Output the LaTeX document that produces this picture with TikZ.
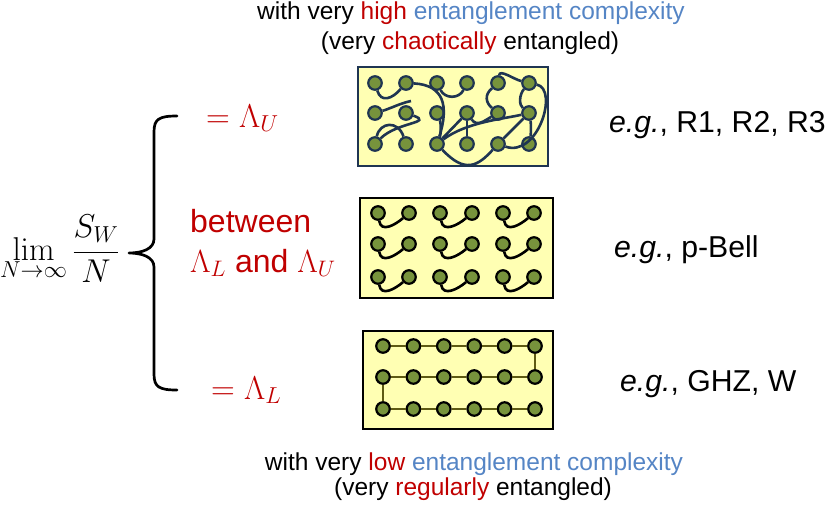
\RequirePackage{fix-cm}
\documentclass[tikz,border=0pt]{standalone}
\usepackage[no-math]{fontspec}
\setmainfont{Liberation Sans}
\definecolor{myred}{HTML}{C00000}
\definecolor{myblue}{HTML}{5585C5}
\definecolor{boxfill}{HTML}{FFFFB3}
\definecolor{navy}{HTML}{1F3552}
\definecolor{dotg}{HTML}{77933C}
\definecolor{olive}{HTML}{5E5A14}
\begin{document}
\begin{tikzpicture}[x=1pt,y=-1pt,
  boxA/.style={rectangle,draw=navy,fill=boxfill,line width=2.6pt,inner sep=0pt},
  boxB/.style={rectangle,draw=black,fill=boxfill,line width=2.6pt,inner sep=0pt},
  dotA/.style={circle,draw=navy,fill=dotg,line width=2.2pt,minimum size=13.5pt,inner sep=0pt},
  dotB/.style={circle,draw=black,fill=dotg,line width=2.2pt,minimum size=13.5pt,inner sep=0pt},
  tangle/.style={draw=navy,line width=2.6pt},
  pairline/.style={draw=black,line width=2.6pt},
  chain/.style={draw=olive,line width=2.8pt},
  captxt/.style={font=\fontsize{24.5}{28}\selectfont,anchor=base,inner sep=0pt},
  egtxt/.style={font=\fontsize{30.2}{34}\selectfont,anchor=base west,inner sep=0pt},
  redtxt/.style={text=myred,inner sep=0pt}
]
\useasboundingbox (0,0) rectangle (825,507);

% captions
\node[captxt] (cap1) at (471,19.5) {with very \textcolor{myred}{high} \textcolor{myblue}{entanglement complexity}};
\node[captxt] (cap2) at (470,49) {(very \textcolor{myred}{chaotically} entangled)};
\node[captxt] (cap3) at (474,470) {with very \textcolor{myred}{low} \textcolor{myblue}{entanglement complexity}};
\node[captxt] (cap4) at (473,495) {(very \textcolor{myred}{regularly} entangled)};

% formula
\node[anchor=base west,inner sep=0pt] (lim) at (0,260) {\fontsize{33}{38}\selectfont$\displaystyle\lim_{N\to\infty}\frac{S_W}{N}$};

% brace
\coordinate (bt) at (177,116);
\coordinate (bb) at (177,390);
\coordinate (bm) at (129,253);
\draw[line width=2.7pt,line cap=round,line join=round]
  (bt) .. controls (159,116) and (154,119) .. (154,132) -- (154,239)
  .. controls (154,249) and (142,253) .. (bm)
  .. controls (142,253) and (154,257) .. (154,267) -- (154,374)
  .. controls (154,387) and (159,390) .. (bb);

% red labels
\node[redtxt,anchor=base west] (lu) at (206,127) {\fontsize{33}{36}\selectfont$=\Lambda_U$};
\node[redtxt,anchor=base west] (btw1) at (190,232) {\fontsize{32}{36}\selectfont between};
\node[redtxt,anchor=base west] (btw2) at (190,272) {\fontsize{32}{36}\selectfont$\Lambda_L$ and $\Lambda_U$};
\node[redtxt,anchor=base west] (ll) at (211,399) {\fontsize{33}{36}\selectfont$=\Lambda_L$};

% examples
\node[egtxt] (eg1) at (609,132) {\textit{e.g.}, R1, R2, R3};
\node[egtxt] (eg2) at (614,257) {\textit{e.g.}, p-Bell};
\node[egtxt] (eg3) at (620,391) {\textit{e.g.}, GHZ, W};

% ---------- top box ----------
\node[boxA,minimum width=190pt,minimum height=99pt] (box1) at (453,116.5) {};
\foreach \c/\x in {1/375,2/406,3/437,4/467,5/498,6/529}{
  \foreach \r/\y in {1/83,2/113,3/144}{
    \node[dotA] (t\c\r) at (\x,\y) {};
  }
}
\coordinate (f1) at (411,101);
\draw[tangle] (t11) .. controls +(6,20) and +(-14,16) .. (t21);
\draw[tangle] (t21) .. controls +(38,2) and +(12,-38) .. (t33);
\draw[tangle] (t31) .. controls +(8,16) and +(-8,16) .. (t41);
\draw[tangle] (t12) .. controls +(14,-4) and +(-10,2) .. (f1);
\draw[tangle] (t22) .. controls +(28,10) and +(22,-22) .. (t13);
\draw[tangle] (t13) .. controls +(5,-22) and +(-8,-24) .. (t23);
\draw[tangle] (t32) .. controls +(4,10) and +(4,-10) .. (t33);
\draw[tangle] (t42) -- (t33);
\draw[tangle] (t42) -- (t43);
\draw[tangle] (t33) .. controls +(28,30) and +(-20,22) .. (t53);
\draw[tangle] (t42) .. controls +(10,14) and +(-14,8) .. (t52);
\draw[tangle] (t51) .. controls +(-14,12) and +(-12,-10) .. (t52);
\draw[tangle] (t51) .. controls +(2,-14) and +(-16,-4) .. (t61);
\draw[tangle] (t61) .. controls +(30,6) and +(40,14) .. (t53);
\draw[tangle] (t62) .. controls +(2,10) and +(2,-10) .. (t63);
\draw[tangle] (t62) -- (t53);
\draw[tangle] (t33) .. controls +(30,-22) and +(-26,6) .. (t62);
\draw[tangle] (t61) .. controls +(-10,12) and +(-10,-8) .. (t62);

% ---------- middle box ----------
\node[boxB,minimum width=193pt,minimum height=100pt] (box2) at (456.5,248) {};
\foreach \p/\xl/\xr in {1/378/409,2/440/472,3/503/534}{
  \foreach \r/\y in {1/213,2/244,3/277}{
    \node[dotB] (ml\p\r) at (\xl,\y) {};
    \node[dotB] (mr\p\r) at (\xr,\y) {};
    \draw[pairline] (ml\p\r) .. controls +(3,20) and +(-14,12) .. (mr\p\r);
  }
}

% ---------- bottom box ----------
\node[boxB,minimum width=190pt,minimum height=98pt] (box3) at (458,380) {};
\foreach \c/\x in {1/383,2/413.4,3/443.8,4/474.2,5/504.6,6/535}{
  \foreach \r/\y in {1/346,2/377,3/409}{
    \node[dotB] (b\c\r) at (\x,\y) {};
  }
}
\draw[chain] (b11) -- (b21) -- (b31) -- (b41) -- (b51) -- (b61);
\draw[chain] (b61) -- (b62);
\draw[chain] (b62) -- (b52) -- (b42) -- (b32) -- (b22) -- (b12);
\draw[chain] (b12) -- (b13);
\draw[chain] (b13) -- (b23) -- (b33) -- (b43) -- (b53) -- (b63);
\end{tikzpicture}
\end{document}
